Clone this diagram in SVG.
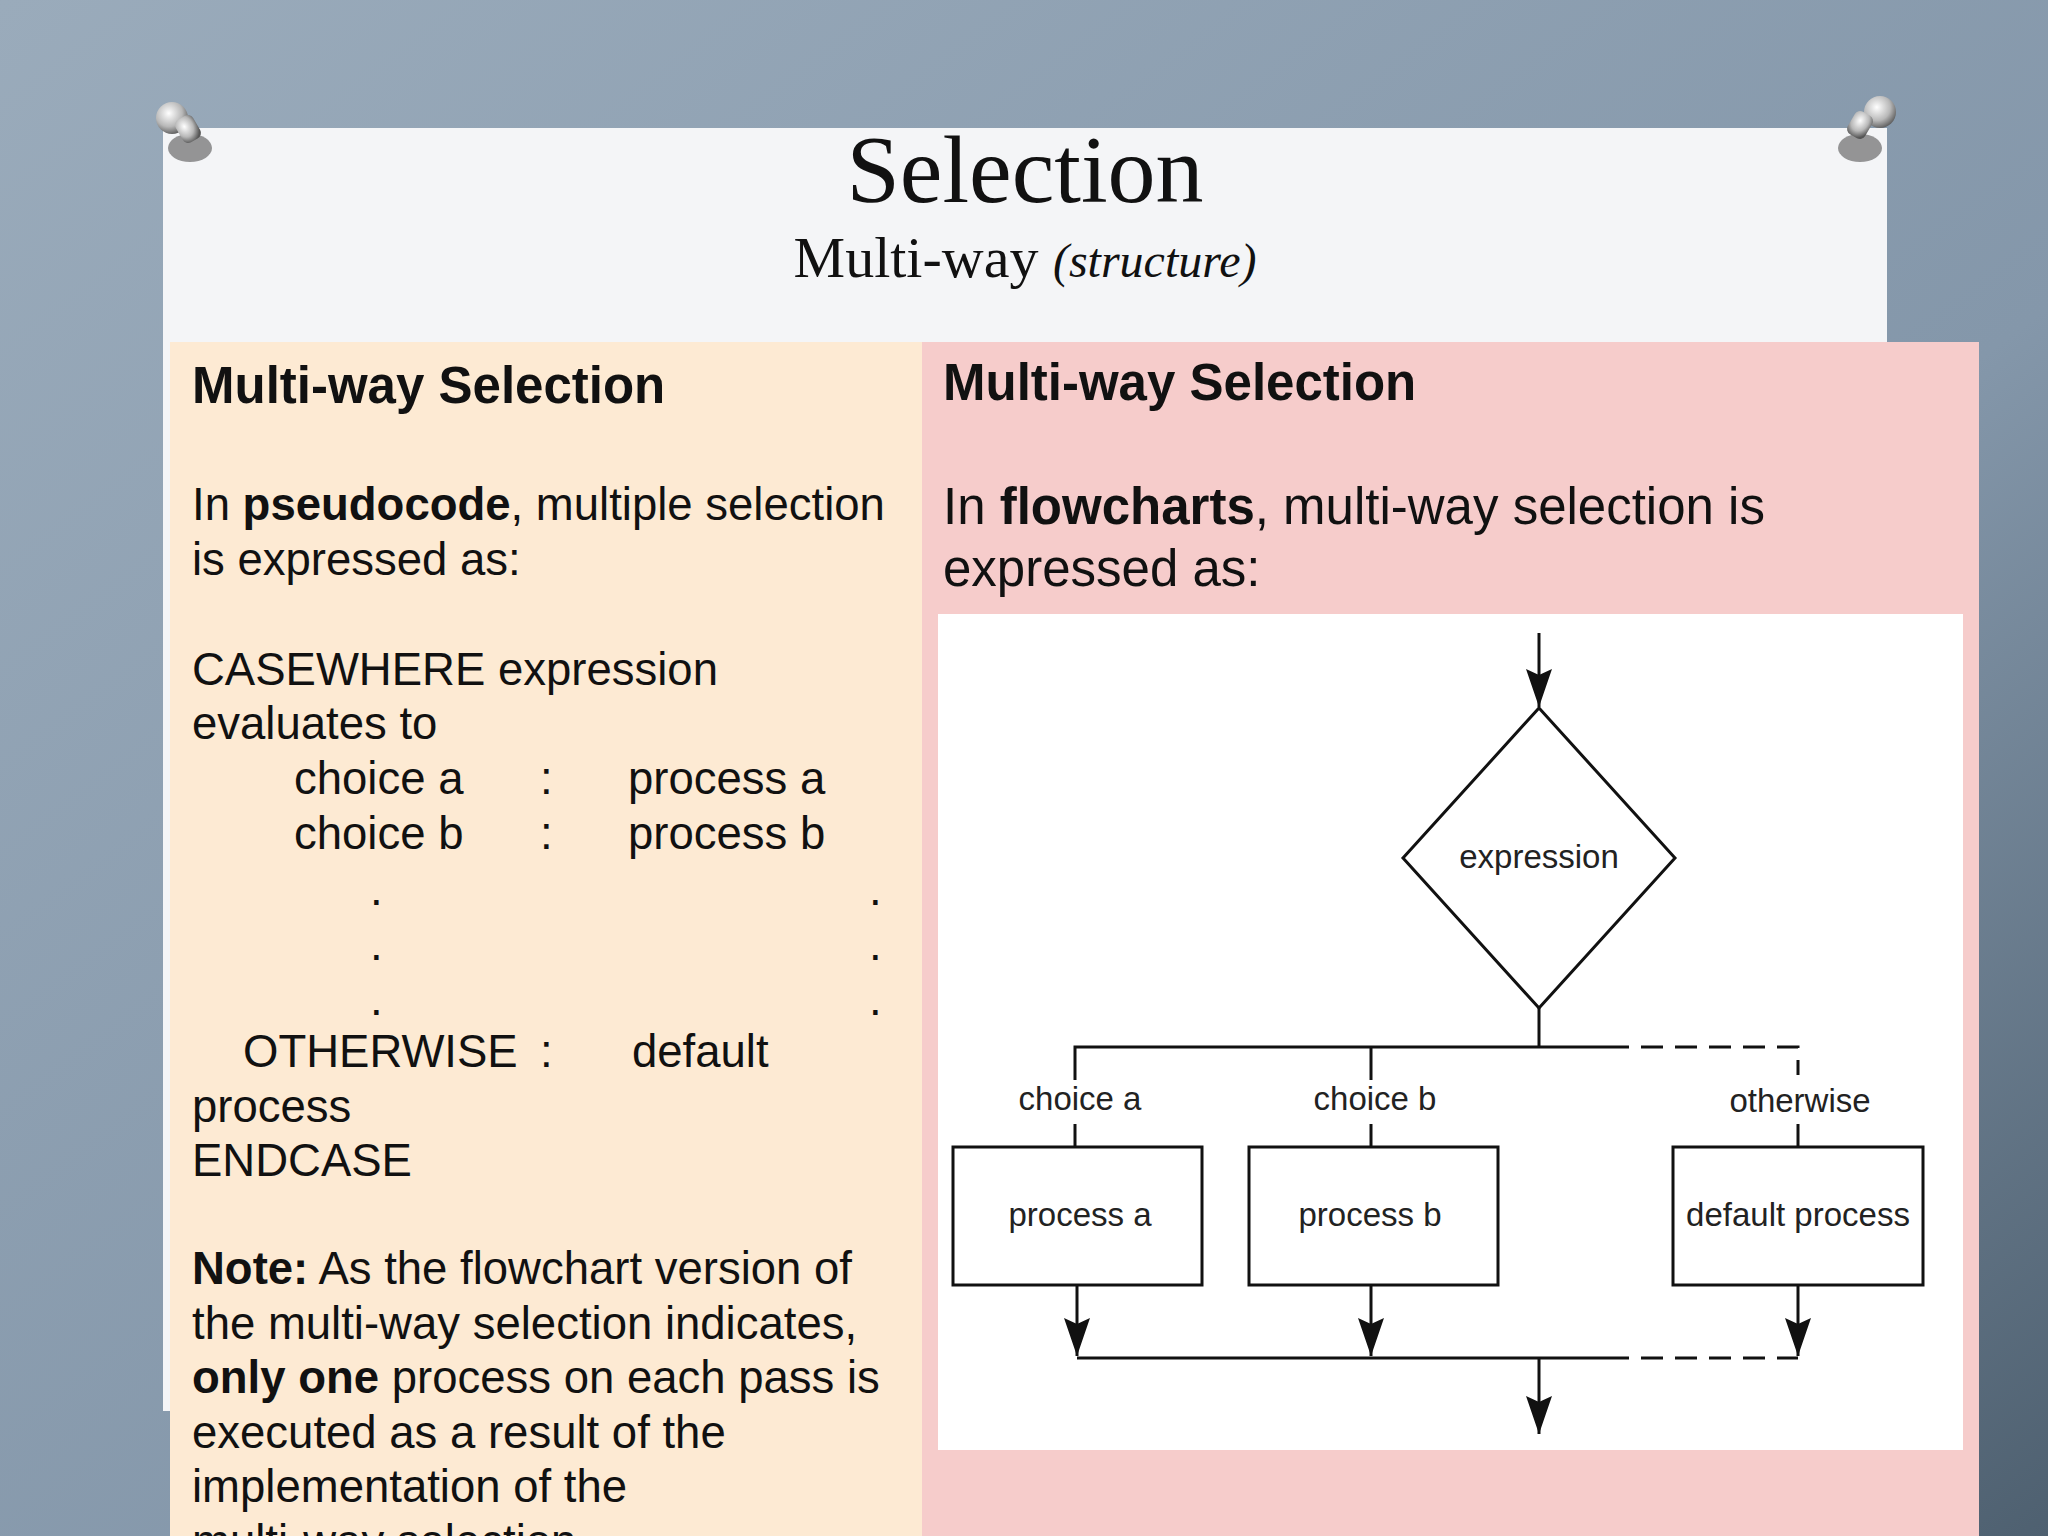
<svg xmlns="http://www.w3.org/2000/svg" width="2048" height="1536" viewBox="0 0 2048 1536">
<defs>
<linearGradient id="bg" x1="0" y1="0" x2="1" y2="1"><stop offset="0" stop-color="#9aabbb"/><stop offset="0.6" stop-color="#8497aa"/><stop offset="1" stop-color="#4e6070"/></linearGradient>
<radialGradient id="pin" cx="0.4" cy="0.35" r="0.7"><stop offset="0" stop-color="#ffffff"/><stop offset="0.6" stop-color="#b8b8b8"/><stop offset="1" stop-color="#555"/></radialGradient>
<marker id="ah" viewBox="0 0 38 26" refX="38" refY="13" markerWidth="38" markerHeight="26" markerUnits="userSpaceOnUse" orient="auto"><path d="M0,0 L38,13 L0,26 L6,13 Z" fill="#111"/></marker>
<style>
.t{font-family:"Liberation Sans",Arial,sans-serif;font-size:45.5px;fill:#111}
.r{font-family:"Liberation Sans",Arial,sans-serif;font-size:51px;fill:#111}
.h{font-family:"Liberation Sans",Arial,sans-serif;font-size:51px;font-weight:bold;fill:#111}
.f{font-family:"Liberation Sans",Arial,sans-serif;font-size:33px;fill:#222;text-anchor:middle}
.ln{stroke:#111;stroke-width:3;fill:none}
.ds{stroke:#111;stroke-width:3;fill:none;stroke-dasharray:22,12}
.bx{stroke:#111;stroke-width:3;fill:#fff}
</style>
</defs>
<rect width="2048" height="1536" fill="url(#bg)"/>
<rect x="163" y="128" width="1724" height="1283" fill="#f4f5f7"/>
<g id="pins">
<ellipse cx="190" cy="148" rx="22" ry="14" fill="#333" opacity="0.5"/>
<circle cx="172" cy="118" r="16" fill="url(#pin)"/><rect x="178" y="116" width="20" height="26" rx="6" fill="url(#pin)" transform="rotate(-30 188 129)"/>
<ellipse cx="1860" cy="148" rx="22" ry="14" fill="#333" opacity="0.5"/>
<circle cx="1880" cy="112" r="16" fill="url(#pin)"/><rect x="1850" y="112" width="20" height="26" rx="6" fill="url(#pin)" transform="rotate(30 1860 125)"/>
</g>
<text x="1025" y="202" text-anchor="middle" font-family="Liberation Serif,serif" font-size="96" fill="#111">Selection</text>
<text x="1025" y="277" text-anchor="middle" font-family="Liberation Serif,serif" font-size="58" fill="#111">Multi-way <tspan font-style="italic" font-size="48">(structure)</tspan></text>
<rect x="170" y="342" width="752" height="1194" fill="#fdead3"/>
<rect x="922" y="342" width="1057" height="1194" fill="#f6cccb"/>
<g id="left">
<text class="h" x="192" y="403">Multi-way Selection</text>
<text class="t" x="192" y="520">In <tspan font-weight="bold">pseudocode</tspan>, multiple selection</text>
<text class="t" x="192" y="575">is expressed as:</text>
<text class="t" x="192" y="685">CASEWHERE expression</text>
<text class="t" x="192" y="739">evaluates to</text>
<text class="t" x="294" y="794">choice a</text><text class="t" x="540" y="794">:</text><text class="t" x="628" y="794">process a</text>
<text class="t" x="294" y="849">choice b</text><text class="t" x="540" y="849">:</text><text class="t" x="628" y="849">process b</text>
<text class="t" x="370" y="905">.</text><text class="t" x="869" y="905">.</text>
<text class="t" x="370" y="960">.</text><text class="t" x="869" y="960">.</text>
<text class="t" x="370" y="1015">.</text><text class="t" x="869" y="1015">.</text>
<text class="t" x="243" y="1067">OTHERWISE</text><text class="t" x="540" y="1067">:</text><text class="t" x="632" y="1067">default</text>
<text class="t" x="192" y="1122">process</text>
<text class="t" x="192" y="1176">ENDCASE</text>
<text class="t" x="192" y="1284"><tspan font-weight="bold">Note:</tspan> As the flowchart version of</text>
<text class="t" x="192" y="1339">the multi-way selection indicates,</text>
<text class="t" x="192" y="1393"><tspan font-weight="bold">only one</tspan> process on each pass is</text>
<text class="t" x="192" y="1448">executed as a result of the</text>
<text class="t" x="192" y="1502">implementation of the</text>
<text class="t" x="192" y="1557">multi-way selection.</text>
</g>
<g id="right">
<text class="h" x="943" y="400">Multi-way Selection</text>
<text class="r" x="943" y="524">In <tspan font-weight="bold">flowcharts</tspan>, multi-way selection is</text>
<text class="r" x="943" y="586">expressed as:</text>
</g>
<rect x="938" y="614" width="1025" height="836" fill="#fff"/>
<g id="connectors">
<line class="ln" x1="1539" y1="633" x2="1539" y2="707" marker-end="url(#ah)"/>
<line class="ln" x1="1539" y1="1008" x2="1539" y2="1047"/>
<polyline class="ln" points="1075,1080 1075,1047 1607,1047"/>
<polyline class="ds" points="1607,1047 1798,1047 1798,1075"/>
<line class="ln" x1="1371" y1="1047" x2="1371" y2="1080"/>
<line class="ln" x1="1075" y1="1124" x2="1075" y2="1147"/>
<line class="ln" x1="1371" y1="1124" x2="1371" y2="1147"/>
<line class="ln" x1="1798" y1="1124" x2="1798" y2="1147"/>
<line class="ln" x1="1077" y1="1285" x2="1077" y2="1356" marker-end="url(#ah)"/>
<line class="ln" x1="1371" y1="1285" x2="1371" y2="1356" marker-end="url(#ah)"/>
<line class="ln" x1="1798" y1="1285" x2="1798" y2="1356" marker-end="url(#ah)"/>
<line class="ln" x1="1077" y1="1358" x2="1607" y2="1358"/>
<line class="ds" x1="1607" y1="1358" x2="1798" y2="1358"/>
<line class="ln" x1="1539" y1="1358" x2="1539" y2="1434" marker-end="url(#ah)"/>
</g>
<g id="expression"><polygon class="bx" points="1539,708 1675,858 1539,1008 1403,858"/><text class="f" x="1539" y="868">expression</text></g>
<g id="labels">
<text class="f" x="1080" y="1110">choice a</text>
<text class="f" x="1375" y="1110">choice b</text>
<text class="f" x="1800" y="1112">otherwise</text>
</g>
<g id="procA"><rect class="bx" x="953" y="1147" width="249" height="138"/><text class="f" x="1080" y="1226">process a</text></g>
<g id="procB"><rect class="bx" x="1249" y="1147" width="249" height="138"/><text class="f" x="1370" y="1226">process b</text></g>
<g id="procD"><rect class="bx" x="1673" y="1147" width="250" height="138"/><text class="f" x="1798" y="1226">default process</text></g>
</svg>
